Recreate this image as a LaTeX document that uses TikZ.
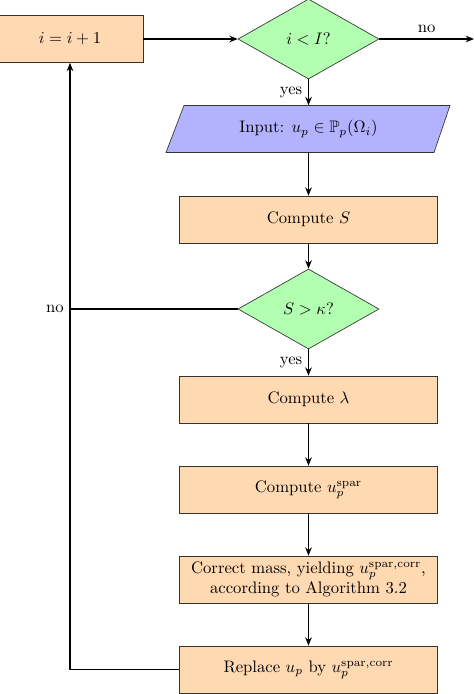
\documentclass[tikz,border=0pt]{standalone}
\usepackage{amssymb}
\usetikzlibrary{shapes.geometric,arrows.meta}
\tikzset{
  procbox/.style={rectangle, draw=black!80, fill=orange!30, minimum width=154.8pt, minimum height=28.2pt, inner sep=2pt, align=center},
  incbox/.style={rectangle, draw=black!80, fill=orange!30, minimum width=87.6pt, minimum height=28.2pt, inner sep=2pt},
  decbox/.style={diamond, draw=black!80, fill=green!30, minimum width=84.6pt, minimum height=48pt, inner sep=0pt, aspect=1.8},
  iobox/.style={rectangle, draw=none, minimum width=160pt, minimum height=28.2pt, inner sep=2pt},
  conn/.style={thick, -{Stealth[length=5pt,width=4pt]}},
  plainline/.style={thick}
}
\begin{document}
\begin{tikzpicture}[x=0.6pt, y=-0.6pt]
\useasboundingbox (0,0) rectangle (474,694);
\clip (0,0) rectangle (474,694);
% parallelogram background
\filldraw[draw=black!80, fill=blue!30] (166,152.5) -- (434,152.5) -- (450,105.5) -- (184,105.5) -- cycle;
\node[incbox] (inc) at (70,39) {$i = i + 1$};
\node[decbox] (d1) at (308.5,39) {$i < I?$};
\node[iobox] (inp) at (308.5,129) {Input: $u_p \in \mathbb{P}_p(\Omega_i)$};
\node[procbox] (cs) at (308.5,219.5) {Compute $S$};
\node[decbox] (d2) at (308.5,309) {$S > \kappa?$};
\node[procbox] (cl) at (308.5,399.5) {Compute $\lambda$};
\node[procbox] (cu) at (308.5,489.5) {Compute $u_p^{\mathrm{spar}}$};
\node[procbox] (cm) at (308.5,579.5) {Correct mass, yielding $u_p^{\mathrm{spar,corr}}$,\\ according to Algorithm 3.2};
\node[procbox] (rp) at (308.5,669.5) {Replace $u_p$ by $u_p^{\mathrm{spar,corr}}$};
\coordinate (topin) at (308.5,-30);
\coordinate (outno) at (474,39);
% connectors
\draw[conn] (topin) -- (d1.north);
\draw[conn] (inc.east) -- (d1.west);
\draw[conn] (d1.east) -- node[above, pos=0.5] {no} (outno);
\draw[conn] (d1.south) -- node[left] {yes} (inp.north);
\draw[conn] (inp.south) -- (cs.north);
\draw[conn] (cs.south) -- (d2.north);
\draw[conn] (d2.south) -- node[left] {yes} (cl.north);
\draw[conn] (cl.south) -- (cu.north);
\draw[conn] (cu.south) -- (cm.north);
\draw[conn] (cm.south) -- (rp.north);
\draw[conn] (rp.west) -| (inc.south);
\draw[plainline] (d2.west) -- (d2.west -| inc.south) node[left] {no};
\end{tikzpicture}
\end{document}
